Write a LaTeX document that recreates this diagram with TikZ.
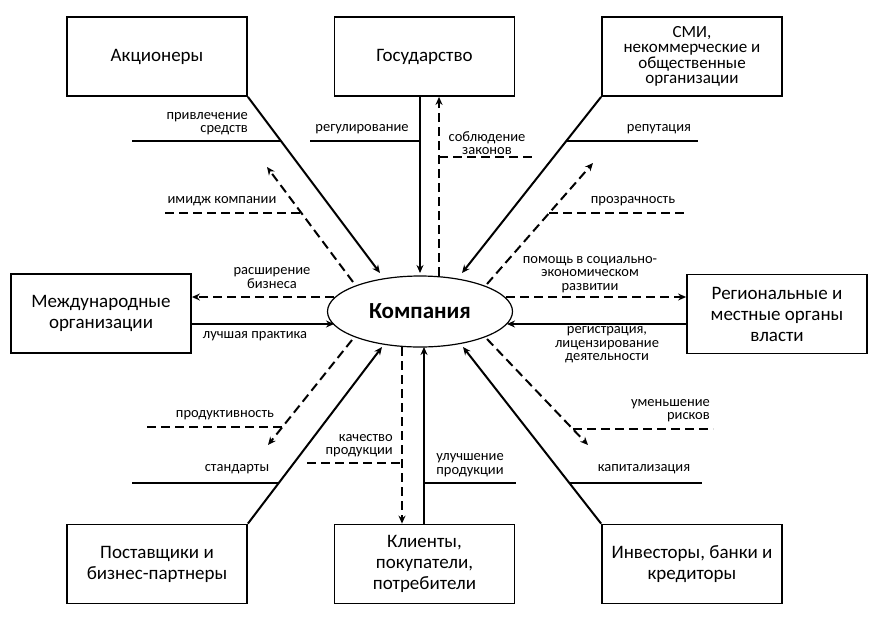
\documentclass[tikz,border=0pt]{standalone}
\usepackage{fontspec}
\setmainfont{Carlito}
\usetikzlibrary{arrows.meta,shapes.geometric}
\begin{document}
\begin{tikzpicture}[x=1pt,y=-1pt,
  box/.style={draw, line width=1.8pt, minimum width=180pt, minimum height=79pt, inner sep=2pt, align=center, font=\fontsize{19}{21}\selectfont},
  lbl/.style={inner sep=0pt, font=\fontsize{14.5}{13.6}\selectfont, align=center},
  sol/.style={line width=2pt},
  dsh/.style={line width=2pt, dash pattern=on 9pt off 5pt},
  arr/.style={-{Stealth[length=8pt,width=7pt]}},
]
\useasboundingbox[fill=white] (0,0) rectangle (874,622);

% boxes
\node[box] (akc) at (157,56.5) {Акционеры};
\node[box] (gos) at (424.5,56.5) {Государство};
\node[box, font=\fontsize{17}{15.5}\selectfont] (smi) at (692,56.5) {СМИ,\\некоммерческие и\\общественные\\организации};
\node[box] (mezh) at (101,313.5) {Международные\\организации};
\node[box] (reg) at (777,314) {Региональные и\\местные органы\\власти};
\node[box] (post) at (157,564) {Поставщики и\\бизнес-партнеры};
\node[box] (kli) at (424.5,564) {Клиенты,\\покупатели,\\потребители};
\node[box] (inv) at (692,564) {Инвесторы, банки и\\кредиторы};

\node[draw, ellipse, line width=1.2pt, minimum width=185pt, minimum height=71pt, inner sep=0pt,
      font=\fontsize{23}{25}\selectfont\bfseries] (comp) at (420,311.5) {Компания};

% endpoints near the company
\coordinate (cA) at (380,273);
\coordinate (cAd) at (353,282);
\coordinate (cG) at (420,273);
\coordinate (cGd) at (439,276);
\coordinate (cS) at (462,273);
\coordinate (cSd) at (487,284);
\coordinate (cMd) at (334,297);
\coordinate (cM) at (334,324);
\coordinate (cRd) at (506,297);
\coordinate (cR) at (507,324);
\coordinate (cP) at (382,347);
\coordinate (cPd) at (352,340);
\coordinate (cKd) at (402,347);
\coordinate (cK) at (424,347);
\coordinate (cI) at (463,347);
\coordinate (cId) at (487,339);

% free ends
\coordinate (tA) at (267,167);
\coordinate (tS) at (593,163);
\coordinate (tP) at (268,445);
\coordinate (tI) at (588,445);

% 1 shareholders
\draw[sol,arr] (akc.south east) -- (cA);
\coordinate (hA1) at (132,141); \coordinate (hA2) at (281,141);
\draw[sol] (hA1) -- (hA2);
\node[lbl, align=right, anchor=east] (lA) at (248,123.5) {привлечение\\средств};
\draw[dsh,arr] (cAd) -- (tA);
\coordinate (hAd1) at (165,213); \coordinate (hAd2) at (302,213);
\draw[dsh] (hAd1) -- (hAd2);
\node[lbl] (lAd) at (222,201) {имидж компании};

% 2 state
\draw[sol,arr] (gos.south -| cG) -- (cG);
\coordinate (hG1) at (310,141); \coordinate (hG2) at (420,141);
\draw[sol] (hG1) -- (hG2);
\node[lbl] (lG) at (362,129.5) {регулирование};
\draw[dsh,arr] (cGd) -- (cGd |- gos.south);
\coordinate (hGd1) at (439,157); \coordinate (hGd2) at (532,157);
\draw[dsh] (hGd1) -- (hGd2);
\node[lbl] (lGd) at (487,143) {соблюдение\\законов};

% 3 media
\draw[sol,arr] (smi.south west) -- (cS);
\coordinate (hS1) at (566,141); \coordinate (hS2) at (698,141);
\draw[sol] (hS1) -- (hS2);
\node[lbl] (lS) at (659,129.5) {репутация};
\draw[dsh,arr] (cSd) -- (tS);
\coordinate (hSd1) at (549,213); \coordinate (hSd2) at (685,213);
\draw[dsh] (hSd1) -- (hSd2);
\node[lbl] (lSd) at (633,201) {прозрачность};

% 4 international
\draw[dsh,arr] (cMd) -- (cMd -| mezh.east);
\node[lbl] (lMd) at (272,278) {расширение\\бизнеса};
\draw[sol,arr] (cM -| mezh.east) -- (cM);
\node[lbl] (lM) at (255,336) {лучшая практика};

% 5 regional
\draw[dsh,arr] (cRd) -- (cRd -| reg.west);
\node[lbl] (lRd) at (590,274.5) {помощь в социально-\\экономическом\\развитии};
\draw[sol,arr] (cR -| reg.west) -- (cR);
\node[lbl] (lR) at (607,345) {регистрация,\\лицензирование\\деятельности};

% 6 suppliers
\draw[sol,arr] (post.north east) -- (cP);
\coordinate (hP1) at (132,483); \coordinate (hP2) at (279,483);
\draw[sol] (hP1) -- (hP2);
\node[lbl] (lP) at (237,469) {стандарты};
\draw[dsh,arr] (cPd) -- (tP);
\coordinate (hPd1) at (147,427); \coordinate (hPd2) at (283,427);
\draw[dsh] (hPd1) -- (hPd2);
\node[lbl] (lPd) at (225,415) {продуктивность};

% 7 clients
\draw[dsh,arr] (cKd) -- (cKd |- kli.north);
\coordinate (hKd1) at (307,463); \coordinate (hKd2) at (402,463);
\draw[dsh] (hKd1) -- (hKd2);
\node[lbl, align=right, anchor=east] (lKd) at (393,445.5) {качество\\продукции};
\draw[sol,arr] (cK |- kli.north) -- (cK);
\coordinate (hK1) at (424,483); \coordinate (hK2) at (516,483);
\draw[sol] (hK1) -- (hK2);
\node[lbl] (lK) at (470,465) {улучшение\\продукции};

% 8 investors
\draw[sol,arr] (inv.north west) -- (cI);
\coordinate (hI1) at (569,483); \coordinate (hI2) at (702,483);
\draw[sol] (hI1) -- (hI2);
\node[lbl] (lI) at (644,469) {капитализация};
\draw[dsh,arr] (cId) -- (tI);
\coordinate (hId1) at (573,429); \coordinate (hId2) at (713,429);
\draw[dsh] (hId1) -- (hId2);
\node[lbl, align=right, anchor=east] (lId) at (710,410.5) {уменьшение\\рисков};

\end{tikzpicture}
\end{document}
